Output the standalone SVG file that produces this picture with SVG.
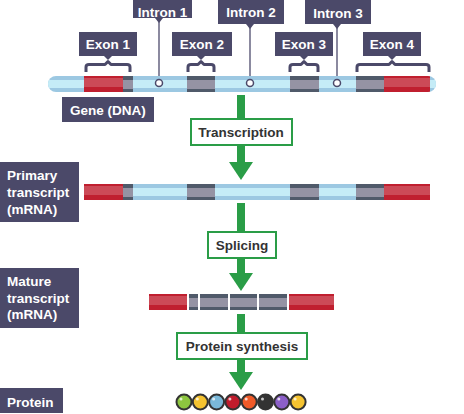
<svg xmlns="http://www.w3.org/2000/svg" width="464" height="414" viewBox="0 0 464 414">
<defs>
<style>
.lbl{fill:#4b4969}
.lt{font-family:"Liberation Sans",Arial,sans-serif;font-weight:bold;font-size:13.5px;fill:#ffffff}
.gt{font-family:"Liberation Sans",Arial,sans-serif;font-weight:bold;font-size:13.5px;fill:#333333;text-anchor:middle}
.c{text-anchor:middle}
.gbox{fill:#ffffff;stroke:#2a9d47;stroke-width:2}
.arr{fill:#2a9d47}
.brace{fill:none;stroke:#4b4969;stroke-width:3;stroke-linejoin:round}
.pin{stroke:#6e6c88;stroke-width:1.6}
.dot{fill:#ffffff;stroke:#4b4969;stroke-width:1.5}
.bd{stroke:#333333;stroke-width:2}
.hl{fill:#ffffff;opacity:0.75}
.bD{fill:#9cc8e2}.bL{fill:#c5ecf7}
.gD{fill:#505a6a}.gL{fill:#9593a4}
.rD{fill:#c01f2f}.rL{fill:#cc4a57}
</style>
<clipPath id="gclip"><rect x="48" y="76" width="388" height="16" rx="8"/></clipPath>
</defs>

<g id="connectors">
  <rect class="arr" x="237" y="95" width="8" height="68"/>
  <polygon class="arr" points="229,162 253,162 241,180"/>
  <rect class="arr" x="237" y="203" width="8" height="71"/>
  <polygon class="arr" points="229,273 253,273 241,291"/>
  <rect class="arr" x="237" y="314" width="8" height="59"/>
  <polygon class="arr" points="229,372 253,372 241,390"/>
  <line class="pin" x1="159" y1="22" x2="159" y2="80"/>
  <line class="pin" x1="250" y1="28" x2="250" y2="80"/>
  <line class="pin" x1="337" y1="28" x2="337" y2="80"/>
</g>

<g id="gene-bar" clip-path="url(#gclip)">
  <rect class="bD" x="48" y="76" width="388" height="16"/>
  <rect class="bL" x="48" y="80" width="388" height="8"/>
  <rect class="rD" x="84" y="76" width="39" height="16"/><rect class="rL" x="84" y="78" width="39" height="9"/>
  <rect class="gD" x="123" y="76" width="10" height="16"/><rect class="gL" x="123" y="80" width="10" height="9"/>
  <rect class="gD" x="187" y="76" width="28" height="16"/><rect class="gL" x="187" y="80" width="28" height="9"/>
  <rect class="gD" x="290" y="76" width="29" height="16"/><rect class="gL" x="290" y="80" width="29" height="9"/>
  <rect class="gD" x="356" y="76" width="28" height="16"/><rect class="gL" x="356" y="80" width="28" height="9"/>
  <rect class="rD" x="384" y="76" width="46" height="16"/><rect class="rL" x="384" y="78" width="46" height="9"/>
</g>
<g id="intron-dots">
  <circle class="dot" cx="159" cy="83" r="3.5"/>
  <circle class="dot" cx="250" cy="83" r="3.5"/>
  <circle class="dot" cx="337" cy="83" r="3.5"/>
</g>
<g id="braces">
  <path class="brace" d="M86,72 V67 Q86,64.5 89,64.5 H105 L108,61.5 L111,64.5 H127 Q130,64.5 130,67 V72"/>
  <path class="brace" d="M188,72 V67 Q188,64.5 191,64.5 H198 L201,61.5 L204,64.5 H211 Q214,64.5 214,67 V72"/>
  <path class="brace" d="M290,72 V67 Q290,64.5 293,64.5 H301 L304,61.5 L307,64.5 H315 Q318,64.5 318,67 V72"/>
  <path class="brace" d="M357,72 V67 Q357,64.5 360,64.5 H389 L392,61.5 L395,64.5 H426 Q429,64.5 429,67 V72"/>
</g>

<g id="intron1">
  <rect class="lbl" x="133" y="-6" width="59" height="24"/>
  <polygon class="lbl" points="155,18 163,18 159,23"/>
  <text class="lt c" x="162.5" y="17">Intron 1</text>
</g>
<g id="intron2">
  <rect class="lbl" x="218" y="0" width="66" height="24"/>
  <polygon class="lbl" points="246,24 254,24 250,29"/>
  <text class="lt c" x="251" y="17">Intron 2</text>
</g>
<g id="intron3">
  <rect class="lbl" x="305" y="0" width="66" height="24"/>
  <polygon class="lbl" points="333,24 341,24 337,29"/>
  <text class="lt c" x="338" y="17.5">Intron 3</text>
</g>
<g id="exon1">
  <rect class="lbl" x="79" y="32" width="58" height="24"/>
  <polygon class="lbl" points="104,56 112,56 108,60"/>
  <text class="lt c" x="108" y="49">Exon 1</text>
</g>
<g id="exon2">
  <rect class="lbl" x="172" y="32" width="60" height="24"/>
  <polygon class="lbl" points="197,56 205,56 201,60"/>
  <text class="lt c" x="202" y="49">Exon 2</text>
</g>
<g id="exon3">
  <rect class="lbl" x="275" y="32" width="58" height="24"/>
  <polygon class="lbl" points="300,56 308,56 304,60"/>
  <text class="lt c" x="304" y="49">Exon 3</text>
</g>
<g id="exon4">
  <rect class="lbl" x="363" y="32" width="58" height="24"/>
  <polygon class="lbl" points="388,56 396,56 392,60"/>
  <text class="lt c" x="392" y="49">Exon 4</text>
</g>
<g id="gene-label">
  <rect class="lbl" x="62" y="97" width="92" height="25"/>
  <text class="lt c" x="108" y="114.5">Gene (DNA)</text>
</g>

<g id="transcription">
  <rect class="gbox" x="191" y="119" width="101" height="26"/>
  <text class="gt" x="241" y="136.5">Transcription</text>
</g>

<g id="primary-label">
  <rect class="lbl" x="0" y="162" width="79" height="60"/>
  <text class="lt" x="7" y="180">Primary</text>
  <text class="lt" x="7" y="197">transcript</text>
  <text class="lt" x="7" y="214">(mRNA)</text>
</g>
<g id="primary-bar">
  <rect class="rD" x="84" y="184" width="39" height="16"/><rect class="rL" x="84" y="186" width="39" height="9"/>
  <rect class="gD" x="123" y="184" width="10" height="16"/><rect class="gL" x="123" y="188" width="10" height="9"/>
  <rect class="bD" x="133" y="184" width="54" height="16"/><rect class="bL" x="133" y="188" width="54" height="8"/>
  <rect class="gD" x="187" y="184" width="28" height="16"/><rect class="gL" x="187" y="188" width="28" height="9"/>
  <rect class="bD" x="215" y="184" width="75" height="16"/><rect class="bL" x="215" y="188" width="75" height="8"/>
  <rect class="gD" x="290" y="184" width="29" height="16"/><rect class="gL" x="290" y="188" width="29" height="9"/>
  <rect class="bD" x="319" y="184" width="37" height="16"/><rect class="bL" x="319" y="188" width="37" height="8"/>
  <rect class="gD" x="356" y="184" width="28" height="16"/><rect class="gL" x="356" y="188" width="28" height="9"/>
  <rect class="rD" x="384" y="184" width="46" height="16"/><rect class="rL" x="384" y="186" width="46" height="9"/>
</g>

<g id="splicing">
  <rect class="gbox" x="208" y="232" width="68" height="26"/>
  <text class="gt" x="242" y="249.5">Splicing</text>
</g>

<g id="mature-label">
  <rect class="lbl" x="0" y="268" width="79" height="60"/>
  <text class="lt" x="7" y="286">Mature</text>
  <text class="lt" x="7" y="303">transcript</text>
  <text class="lt" x="7" y="319">(mRNA)</text>
</g>
<g id="mature-bar">
  <rect class="rD" x="149" y="294" width="38" height="16"/><rect class="rL" x="149" y="296" width="38" height="9"/>
  <rect class="gD" x="189" y="294" width="9" height="16"/><rect class="gL" x="189" y="298" width="9" height="9"/>
  <rect class="gD" x="200" y="294" width="28" height="16"/><rect class="gL" x="200" y="298" width="28" height="9"/>
  <rect class="gD" x="230" y="294" width="27" height="16"/><rect class="gL" x="230" y="298" width="27" height="9"/>
  <rect class="gD" x="259" y="294" width="28" height="16"/><rect class="gL" x="259" y="298" width="28" height="9"/>
  <rect class="rD" x="289" y="294" width="45" height="16"/><rect class="rL" x="289" y="296" width="45" height="9"/>
</g>

<g id="protein-synthesis">
  <rect class="gbox" x="177" y="333" width="130" height="26"/>
  <text class="gt" x="242" y="350.5">Protein synthesis</text>
</g>

<g id="protein-label">
  <rect class="lbl" x="0" y="388" width="63" height="25"/>
  <text class="lt" x="7" y="407">Protein</text>
</g>
<g id="protein-beads">
  <circle class="bd" cx="184" cy="402" r="7.5" fill="#8dc63f"/><circle class="hl" cx="181" cy="399" r="1.5"/>
  <circle class="bd" cx="200.3" cy="402" r="7.5" fill="#f5c330"/><circle class="hl" cx="197.3" cy="399" r="1.5"/>
  <circle class="bd" cx="216.6" cy="402" r="7.5" fill="#7ab8d9"/><circle class="hl" cx="213.6" cy="399" r="1.5"/>
  <circle class="bd" cx="232.9" cy="402" r="7.5" fill="#c01c2c"/><circle class="hl" cx="229.9" cy="399" r="1.5"/>
  <circle class="bd" cx="249.2" cy="402" r="7.5" fill="#f05a28"/><circle class="hl" cx="246.2" cy="399" r="1.5"/>
  <circle class="bd" cx="265.5" cy="402" r="7.5" fill="#333333"/><circle class="hl" cx="262.5" cy="399" r="1.5"/>
  <circle class="bd" cx="281.8" cy="402" r="7.5" fill="#8b5fc8"/><circle class="hl" cx="278.8" cy="399" r="1.5"/>
  <circle class="bd" cx="298.1" cy="402" r="7.5" fill="#f5c330"/><circle class="hl" cx="295.1" cy="399" r="1.5"/>
</g>
</svg>
